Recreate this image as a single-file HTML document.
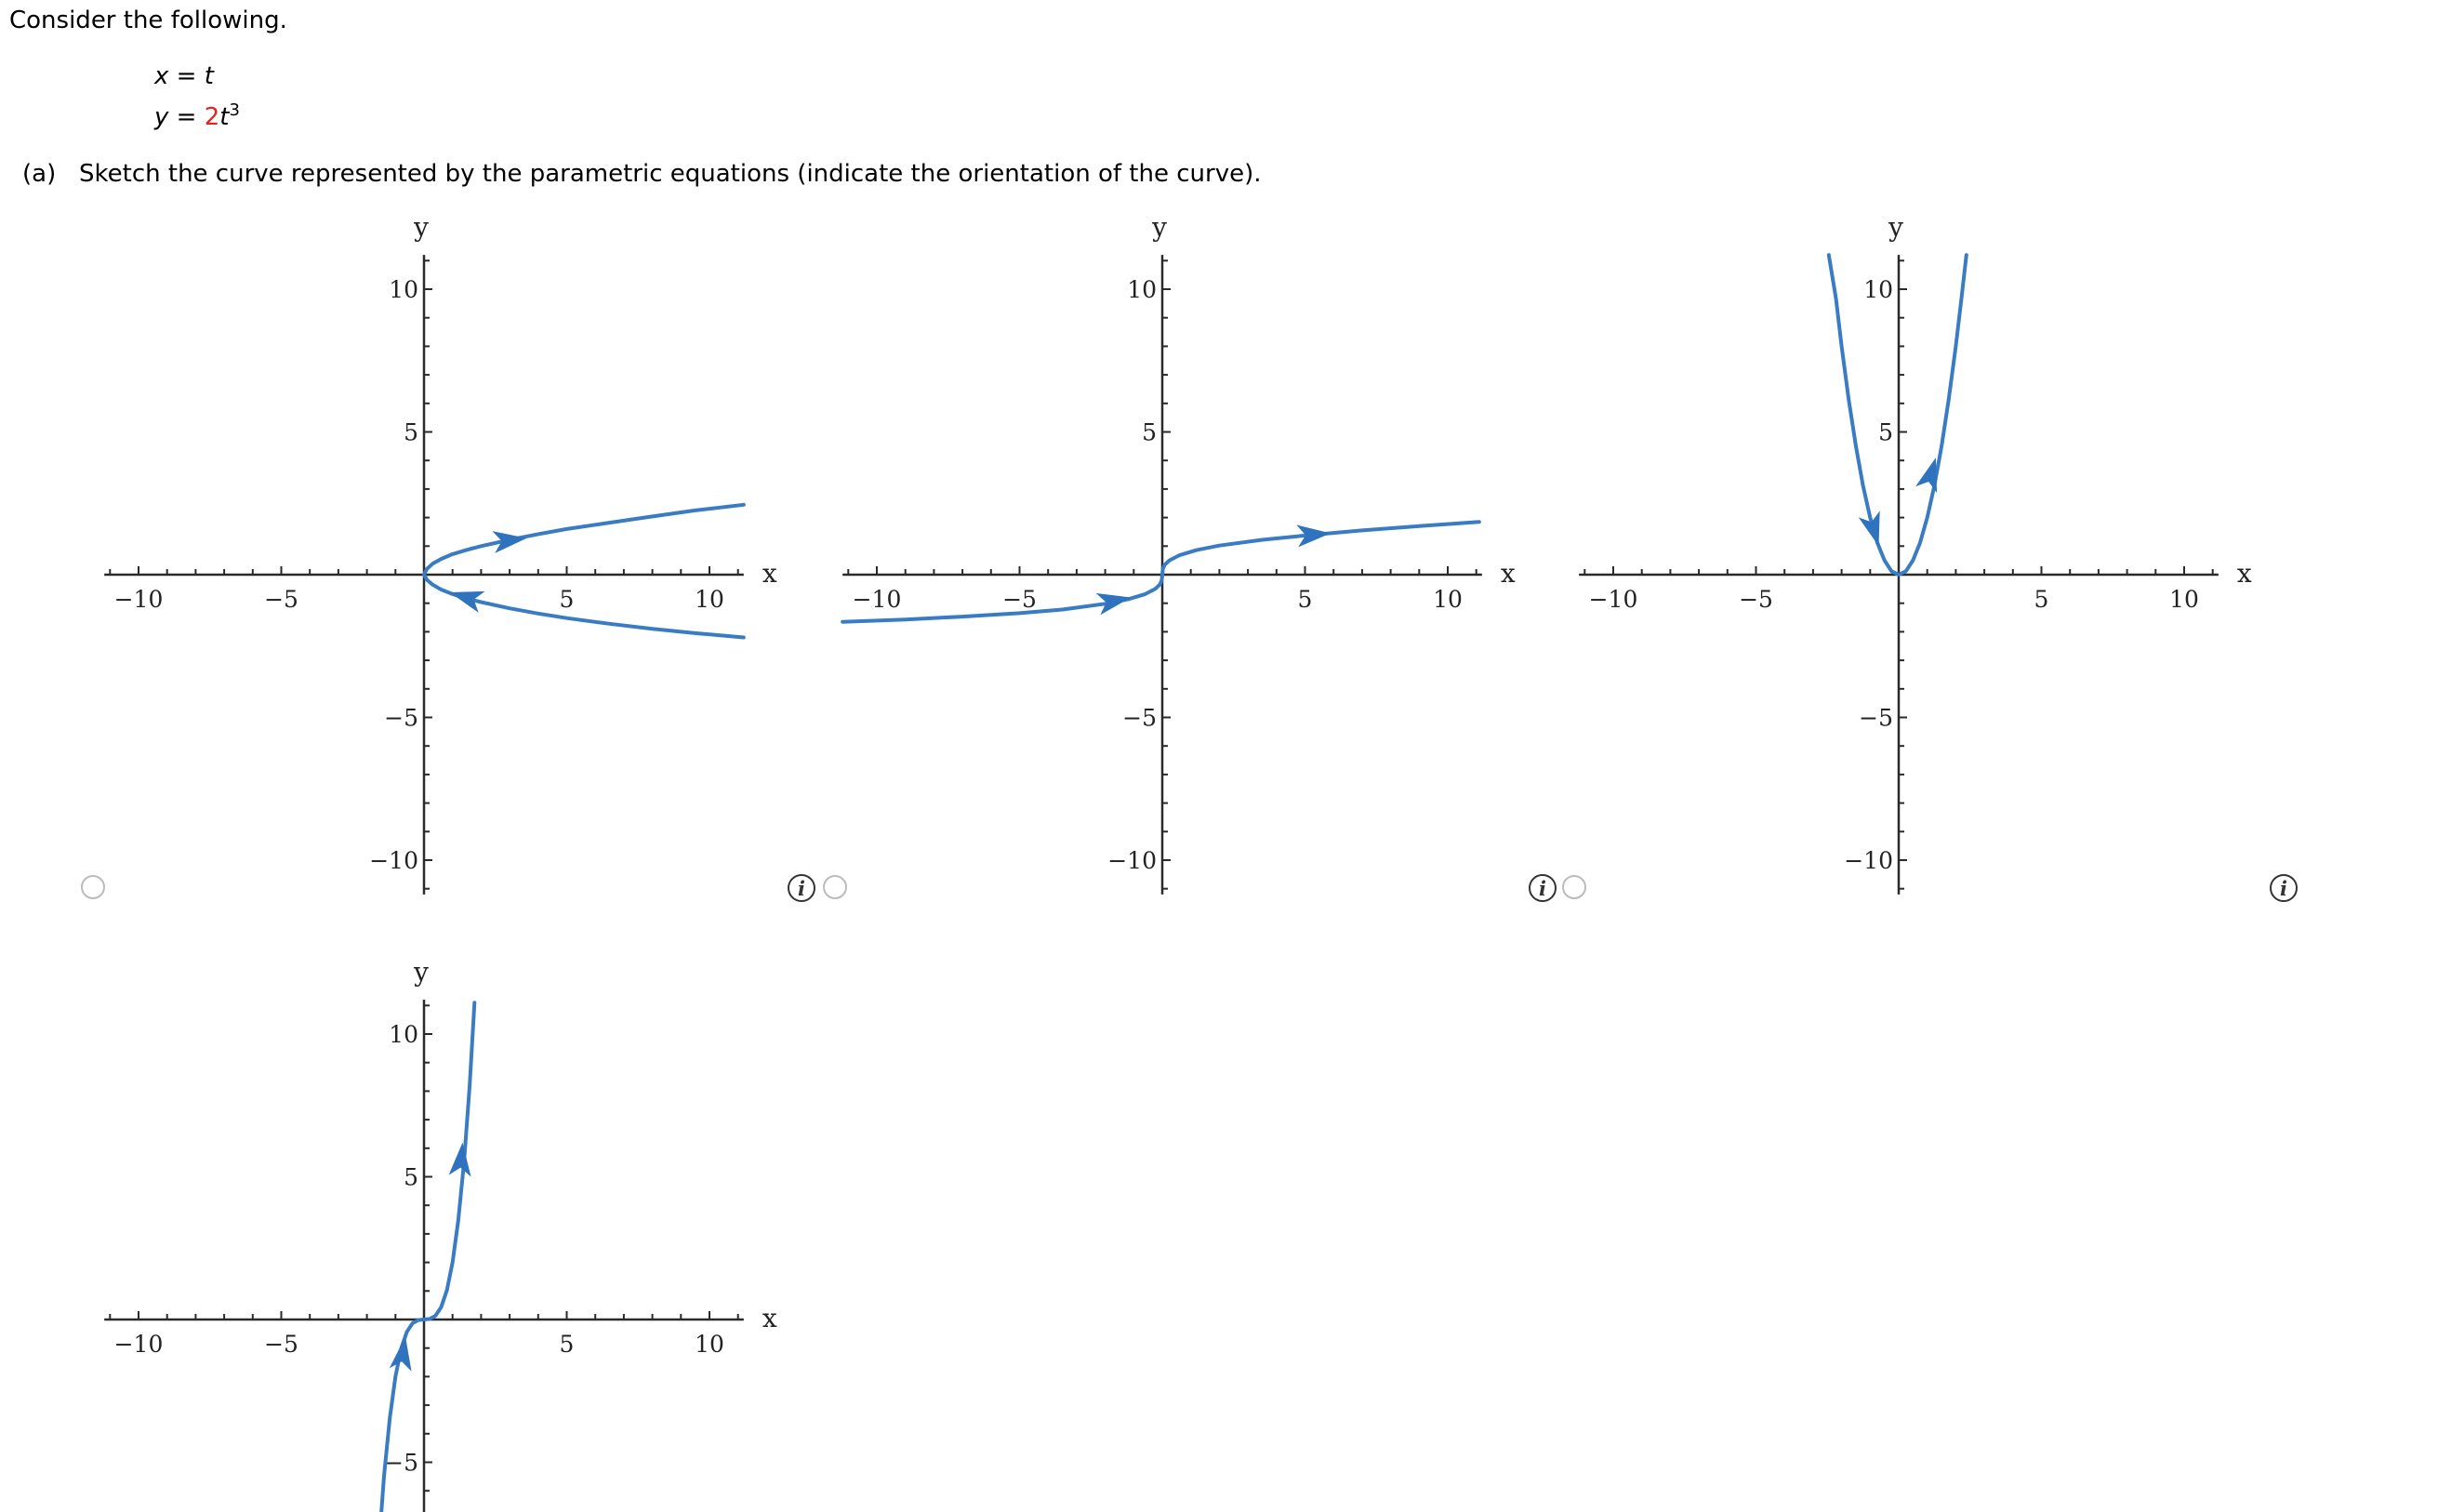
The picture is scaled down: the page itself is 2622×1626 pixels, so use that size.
<!DOCTYPE html>
<html><head><meta charset="utf-8"><style>
html,body{margin:0;padding:0;background:#fff;}
body{width:2622px;height:1626px;overflow:hidden;position:relative;font-family:"DejaVu Sans","Liberation Sans",sans-serif;color:#000;}
.t{position:absolute;font-size:26px;white-space:nowrap;line-height:1;}
svg{position:absolute;left:0;top:0;overflow:hidden;}
</style></head><body>
<div class="t" style="left:10px;top:9px;">Consider the following.</div>
<div class="t" style="left:166px;top:69px;"><i>x</i> = <i>t</i></div>
<div class="t" style="left:166px;top:110px;"><i>y</i> = <span style="color:#e8231c">2</span><i>t</i><sup style="font-size:18px;vertical-align:10px;">3</sup></div>
<div class="t" style="left:24px;top:174px;">(a)&nbsp;&nbsp; Sketch the curve represented by the parametric equations (indicate the orientation of the curve).</div>
<svg id="chart" width="2622" height="1626"></svg>
<script>
const ticks = [-10,-5,5,10];
const tickLabels = ["\u221210","\u22125","5","10"];
// Curve points (x values and y values) per option graph
const c1x = [11.2,9.5,8,6.5,5,4,3,2,1.5,1,0.6,0.3,0.1,0,0.1,0.3,0.6,1,1.5,2,3,4,5,6.5,8,9.5,11.2];
const c1y = [-2.2,-2.05,-1.9,-1.72,-1.52,-1.36,-1.18,-0.96,-0.84,-0.68,-0.52,-0.35,-0.18,0,0.2,0.38,0.55,0.72,0.87,1.0,1.22,1.42,1.6,1.82,2.04,2.25,2.45];
const c2x = [-11.2,-9,-7,-5,-3.5,-2,-1.2,-0.6,-0.25,-0.08,-0.02,0,0.02,0.08,0.25,0.6,1.2,2,3.5,5,7,9,11.1];
const c2y = [-1.65,-1.57,-1.47,-1.35,-1.22,-1.02,-0.86,-0.68,-0.5,-0.34,-0.2,0,0.2,0.34,0.5,0.68,0.86,1.02,1.22,1.37,1.55,1.7,1.85];
const c3x = [-2.45,-2.2,-2,-1.75,-1.5,-1.25,-1,-0.75,-0.5,-0.25,0,0.25,0.5,0.75,1,1.25,1.5,1.75,2,2.2,2.37];
const c3y = [11.2,9.68,8,6.12,4.5,3.12,2,1.12,0.5,0.12,0,0.12,0.5,1.12,2,3.12,4.5,6.12,8,9.68,11.2];
const c4x = [-1.8,-1.6,-1.4,-1.2,-1,-0.8,-0.6,-0.4,-0.2,0,0.2,0.4,0.6,0.8,1,1.2,1.4,1.6,1.77];
const c4y = [-11.2,-8.19,-5.49,-3.46,-2,-1.02,-0.43,-0.13,-0.02,0,0.02,0.13,0.43,1.02,2,3.46,5.49,8.19,11.1];
// arrows: position and direction (data units)
const a1 = [[3.6,1.28,1,0.12],[0.9,-0.62,-1,0.3]];
const a2 = [[-1.1,-0.8,1,0.2],[5.9,1.45,1,0.08]];
const a3 = [[-0.7,1.0,0.3,-1],[1.3,4.1,0.3,1]];
const a4 = [[-0.65,-0.6,0.15,1],[1.35,6.2,0.08,1]];
const origins = [[456,618],[1250,618],[2042,618],[456,1419]];
const curvesX=[c1x,c2x,c3x,c4x], curvesY=[c1y,c2y,c3y,c4y], arrows=[a1,a2,a3,a4];
const U = 30.7, R = 11.2;
const svg = document.getElementById('chart');
const NS = 'http://www.w3.org/2000/svg';
function mk(tag, attrs){const e=document.createElementNS(NS,tag);for(const k in attrs)e.setAttribute(k,attrs[k]);svg.appendChild(e);return e;}
origins.forEach((o,gi)=>{
  const sx=v=>o[0]+v*U, sy=v=>o[1]-v*U;
  const xa=mk('line',{x1:sx(-R),x2:sx(R),y1:o[1],y2:o[1],stroke:'#2a2a2a','stroke-width':2.5});
  
  
  const ya=mk('line',{x1:o[0],x2:o[0],y1:sy(R),y2:Math.min(sy(-R),1626),stroke:'#2a2a2a','stroke-width':2.5});
  
  
  for(let i=-11;i<=11;i++){ if(i===0)continue;
    const L=(i%5===0)?9:6;
    mk('line',{x1:sx(i),x2:sx(i),y1:o[1],y2:o[1]-L,stroke:'#2a2a2a','stroke-width':2});
    if(sy(i)<1626) mk('line',{x1:o[0],x2:o[0]+L,y1:sy(i),y2:sy(i),stroke:'#2a2a2a','stroke-width':2});
  }
  ticks.forEach((v,j)=>{
    const tx=mk('text',{x:sx(v),y:o[1]+35,'text-anchor':'middle','font-family':'"DejaVu Serif","Liberation Serif",serif','font-size':25,fill:'#222'});
    tx.textContent=tickLabels[j];
    
    
    if(sy(v)<1600){
    const ty=mk('text',{x:o[0]-6,y:sy(v)+9,'text-anchor':'end','font-family':'"DejaVu Serif","Liberation Serif",serif','font-size':25,fill:'#222'});
    ty.textContent=tickLabels[j];
    
    }
  });
  const lx=mk('text',{x:sx(R)+20,y:o[1]+8,'font-family':'"DejaVu Serif","Liberation Serif",serif','font-size':28,fill:'#222'});
  lx.textContent='x';
  
  
  const ly=mk('text',{x:o[0]-3,y:sy(R)-20,'text-anchor':'middle','font-family':'"DejaVu Serif","Liberation Serif",serif','font-size':28,fill:'#222'});
  ly.textContent='y';
  
  
  const X=curvesX[gi],Y=curvesY[gi];
  let d='';
  for(let k=0;k<X.length;k++){d+=(k?' L':'M')+sx(X[k]).toFixed(1)+' '+sy(Y[k]).toFixed(1);}
  const p=mk('path',{d:d,fill:'none',stroke:'#3a7cc3','stroke-width':4,'stroke-linejoin':'round','stroke-linecap':'round'});
  
  
  arrows[gi].forEach(a=>{
    const px=sx(a[0]),py=sy(a[1]);let dx=a[2],dy=-a[3];const n=Math.hypot(dx,dy);dx/=n;dy/=n;
    const L=36,W=12;const bx=px-dx*L,by=py-dy*L;
    const tri=mk('polygon',{points:`${px},${py} ${bx-dy*W},${by+dx*W} ${px-dx*L*0.75},${py-dy*L*0.75} ${bx+dy*W},${by-dx*W}`,fill:'#2f72bd'});
    
    
  });
});
[[100,954],[898,954],[1693,954]].forEach(r=>{
  const c=mk('circle',{cx:r[0],cy:r[1],r:12,fill:'#fff',stroke:'#bbb','stroke-width':2});
  
  
});
[[862,955],[1659,955],[2456,955]].forEach(r=>{
  const c=mk('circle',{cx:r[0],cy:r[1],r:14,fill:'#fff',stroke:'#333','stroke-width':2});
  
  
  const t=mk('text',{x:r[0],y:r[1]+8,'text-anchor':'middle','font-family':'"DejaVu Serif",serif','font-style':'italic','font-weight':'bold','font-size':21,fill:'#333'});
  t.textContent='i';
  
  
});
</script>
</body></html>
